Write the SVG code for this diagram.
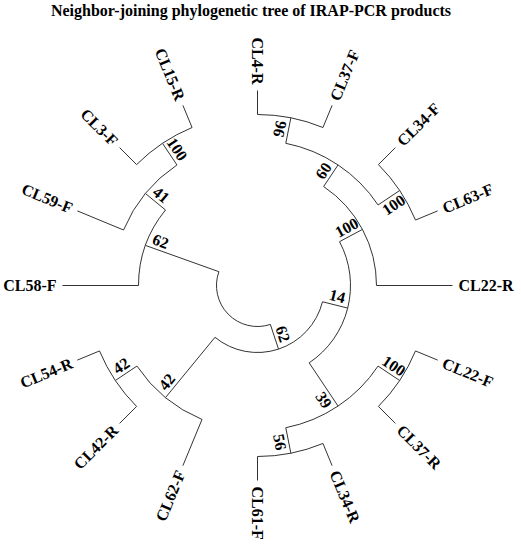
<svg xmlns="http://www.w3.org/2000/svg" width="521" height="550" viewBox="0 0 521 550">
<style>
.ln{fill:none;stroke:#333;stroke-width:1}
text{font-family:"Liberation Serif","Times New Roman",serif;font-weight:bold;font-size:16px;fill:#000}
.s{text-anchor:start}
.e{text-anchor:end}
.m{text-anchor:middle}
</style>
<rect width="521" height="550" fill="#fff"/>
<text id="title" x="251" y="16" class="m">Neighbor-joining phylogenetic tree of IRAP-PCR products</text>
<g id="connectors" class="ln">
<line x1="257.5" y1="114.5" x2="257.5" y2="90.5"/>
<line x1="322.94" y1="127.52" x2="332.12" y2="105.34"/>
<line x1="378.42" y1="164.58" x2="395.39" y2="147.61"/>
<line x1="415.48" y1="220.06" x2="437.66" y2="210.88"/>
<line x1="376.5" y1="285.5" x2="452.5" y2="285.5"/>
<line x1="415.48" y1="350.94" x2="437.66" y2="360.12"/>
<line x1="378.42" y1="406.42" x2="395.39" y2="423.39"/>
<line x1="322.94" y1="443.48" x2="332.12" y2="465.66"/>
<line x1="257.5" y1="456.5" x2="257.5" y2="480.5"/>
<line x1="202.01" y1="419.46" x2="182.88" y2="465.66"/>
<line x1="136.58" y1="406.42" x2="119.61" y2="423.39"/>
<line x1="99.52" y1="350.94" x2="77.34" y2="360.12"/>
<line x1="138.5" y1="285.5" x2="62.5" y2="285.5"/>
<line x1="123.54" y1="230.01" x2="77.34" y2="210.88"/>
<line x1="136.58" y1="164.58" x2="119.61" y2="147.61"/>
<line x1="192.06" y1="127.52" x2="182.88" y2="105.34"/>
<line x1="285.79" y1="143.29" x2="290.86" y2="117.78"/>
<line x1="378.06" y1="204.94" x2="399.68" y2="190.50"/>
<line x1="323.61" y1="186.56" x2="338.06" y2="164.94"/>
<line x1="339.52" y1="241.66" x2="362.45" y2="229.40"/>
<line x1="378.06" y1="366.06" x2="399.68" y2="380.50"/>
<line x1="285.79" y1="427.71" x2="290.86" y2="453.22"/>
<line x1="309.17" y1="362.83" x2="338.06" y2="406.06"/>
<line x1="322.49" y1="301.78" x2="347.71" y2="308.10"/>
<line x1="136.94" y1="366.06" x2="115.32" y2="380.50"/>
<line x1="214.99" y1="337.29" x2="165.51" y2="397.59"/>
<line x1="270.36" y1="324.43" x2="278.52" y2="349.12"/>
<line x1="176.94" y1="164.94" x2="162.50" y2="143.32"/>
<line x1="165.51" y1="210.01" x2="145.41" y2="193.51"/>
<line x1="218.90" y1="271.69" x2="145.45" y2="245.41"/>
</g>
<g id="node-root"><path class="ln" d="M270.36 324.43 A41 41 0 0 1 218.90 271.69"/></g>
<g id="node-96"><path class="ln" d="M257.5 114.5 A171 171 0 0 1 322.94 127.52"/><text class="m" transform="translate(288.32 130.54) rotate(-78.75)" y="-3.5">96</text></g>
<g id="node-100a"><path class="ln" d="M378.42 164.58 A171 171 0 0 1 415.48 220.06"/><text class="m" transform="translate(388.87 197.72) rotate(-33.75)" y="14">100</text></g>
<g id="node-60"><path class="ln" d="M285.79 143.29 A145 145 0 0 1 378.06 204.94"/><text class="m" transform="translate(330.84 175.75) rotate(-56.25)" y="-3.5">60</text></g>
<g id="node-100b"><path class="ln" d="M323.61 186.56 A119 119 0 0 1 376.5 285.5"/><text class="m" transform="translate(350.98 235.53) rotate(-28.125)" y="-3.5">100</text></g>
<g id="node-100c"><path class="ln" d="M415.48 350.94 A171 171 0 0 1 378.42 406.42"/><text class="m" transform="translate(388.87 373.28) rotate(33.75)" y="-3.5">100</text></g>
<g id="node-56"><path class="ln" d="M322.94 443.48 A171 171 0 0 1 257.5 456.5"/><text class="m" transform="translate(288.32 440.46) rotate(78.75)" y="14">56</text></g>
<g id="node-39"><path class="ln" d="M378.06 366.06 A145 145 0 0 1 285.79 427.71"/><text class="m" transform="translate(330.84 395.25) rotate(56.25)" y="14">39</text></g>
<g id="node-14"><path class="ln" d="M339.52 241.66 A93 93 0 0 1 309.17 362.83"/><text class="m" transform="translate(335.10 304.94) rotate(14.0625)" y="-3.5">14</text></g>
<g id="node-42a"><path class="ln" d="M136.58 406.42 A171 171 0 0 1 99.52 350.94"/><text class="m" transform="translate(126.13 373.28) rotate(-33.75)" y="-3.5">42</text></g>
<g id="node-42b"><path class="ln" d="M202.01 419.46 A145 145 0 0 1 136.94 366.06"/><text class="m" transform="translate(173.76 387.54) rotate(-50.625)" y="-3.5">42</text></g>
<g id="node-62a"><path class="ln" d="M322.49 301.78 A67 67 0 0 1 214.99 337.29"/><text class="m" transform="translate(274.44 336.78) rotate(71.72)" y="-3.5">62</text></g>
<g id="node-100d"><path class="ln" d="M136.58 164.58 A171 171 0 0 1 192.06 127.52"/><text class="m" transform="translate(169.72 154.13) rotate(56.25)" y="-3.5">100</text></g>
<g id="node-41"><path class="ln" d="M123.54 230.01 A145 145 0 0 1 176.94 164.94"/><text class="m" transform="translate(155.46 201.76) rotate(39.375)" y="-3.5">41</text></g>
<g id="node-62b"><path class="ln" d="M138.5 285.5 A119 119 0 0 1 165.51 210.01"/><text class="m" transform="translate(157.69 249.79) rotate(19.6875)" y="-3.5">62</text></g>
<g id="leaf-CL4-R"><text class="e" transform="translate(257.5 84.5) rotate(90)" dy="5.5">CL4-R</text></g>
<g id="leaf-CL37-F"><text class="s" transform="translate(334.42 99.80) rotate(-67.5)" dy="5.5">CL37-F</text></g>
<g id="leaf-CL34-F"><text class="s" transform="translate(399.63 143.37) rotate(-45)" dy="5.5">CL34-F</text></g>
<g id="leaf-CL63-F"><text class="s" transform="translate(443.20 208.58) rotate(-22.5)" dy="5.5">CL63-F</text></g>
<g id="leaf-CL22-R"><text class="s" transform="translate(458.5 285.5)" dy="5.5">CL22-R</text></g>
<g id="leaf-CL22-F"><text class="s" transform="translate(443.20 362.42) rotate(22.5)" dy="5.5">CL22-F</text></g>
<g id="leaf-CL37-R"><text class="s" transform="translate(399.63 427.63) rotate(45)" dy="5.5">CL37-R</text></g>
<g id="leaf-CL34-R"><text class="s" transform="translate(334.42 471.20) rotate(67.5)" dy="5.5">CL34-R</text></g>
<g id="leaf-CL61-F"><text class="s" transform="translate(257.5 486.5) rotate(90)" dy="5.5">CL61-F</text></g>
<g id="leaf-CL62-F"><text class="e" transform="translate(180.58 471.20) rotate(-67.5)" dy="5.5">CL62-F</text></g>
<g id="leaf-CL42-R"><text class="e" transform="translate(115.37 427.63) rotate(-45)" dy="5.5">CL42-R</text></g>
<g id="leaf-CL54-R"><text class="e" transform="translate(71.80 362.42) rotate(-22.5)" dy="5.5">CL54-R</text></g>
<g id="leaf-CL58-F"><text class="e" transform="translate(56.5 285.5)" dy="5.5">CL58-F</text></g>
<g id="leaf-CL59-F"><text class="e" transform="translate(71.80 208.58) rotate(22.5)" dy="5.5">CL59-F</text></g>
<g id="leaf-CL3-F"><text class="e" transform="translate(115.37 143.37) rotate(45)" dy="5.5">CL3-F</text></g>
<g id="leaf-CL15-R"><text class="e" transform="translate(180.58 99.80) rotate(67.5)" dy="5.5">CL15-R</text></g>
</svg>
